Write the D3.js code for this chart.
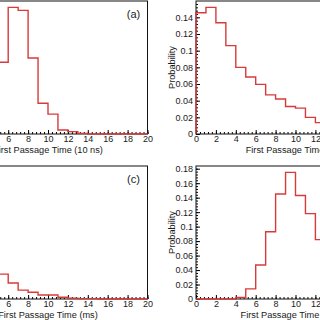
<!DOCTYPE html>
<html>
<head>
<meta charset="utf-8">
<script src="https://cdn.jsdelivr.net/npm/d3@7"></script>
<style>
  body { margin: 0; background: #fff; }
  svg { display: block; font-family: "Liberation Sans", Arial, sans-serif; }
</style>
</head>
<body>
<div id="chart"></div>
<script>
// first passage time histograms, 20 bins of width 1 (probability per bin)
const xTickValues = [0, 2, 4, 6, 8, 10, 12, 14, 16, 18, 20];
const probA = [0.005, 0.02, 0.045, 0.07, 0.1, 0.119, 0.21, 0.205, 0.126, 0.051, 0.033, 0.0066, 0.004, 0.001, 0, 0, 0, 0, 0, 0];
const probB = [0.1455, 0.152, 0.1335, 0.106, 0.080, 0.0684, 0.0596, 0.047, 0.042, 0.033, 0.031, 0.020, 0.0136, 0.012, 0.011, 0.010, 0.009, 0.009, 0.009, 0.008];
const probC = [0.30, 0.22, 0.15, 0.10, 0.07, 0.059, 0.038, 0.021, 0.016, 0.0095, 0.0095, 0.004, 0.0017, 0.001, 0.001, 0, 0, 0, 0, 0];
const probD = [0, 0, 0, 0, 0.002, 0.014, 0.047, 0.093, 0.145, 0.175, 0.143, 0.118, 0.082, 0.07, 0.045, 0.03, 0.02, 0.013, 0.008, 0.005];
const xTitles = ['First Passage Time (10 ns)', 'First Passage Time (ms)', 'First Passage Time (ms)', 'First Passage Time (10 ns)'];
const panelLabels = ['(a)', '', '(c)', ''];
const yTitle = 'Probability';

const width = 320, height = 320;
const plotW = 199, plotH = 133;

const panels = [
  { left: -51.5, top: 1, values: probA },
  { left: 196, top: 1, values: probB },
  { left: -51.5, top: 166, values: probC },
  { left: 196, top: 166, values: probD }
];

const svg = d3.select('#chart').append('svg')
  .attr('width', width)
  .attr('height', height);

panels.forEach((p, i) => {
  const g = svg.append('g').attr('transform', `translate(${p.left},${p.top})`);
  const yMax = d3.max(p.values) * 1.05;
  const yVisible = p.left > 0; // left axis of (a) and (c) lies outside the crop

  const x = d3.scaleLinear().domain([0, 20]).range([0, plotW]);
  const y = d3.scaleLinear().domain([0, yMax]).range([plotH, 0]);

  // only label ticks that fall inside the picture
  const shownX = xTickValues.filter(v => p.left + x(v) > 2 && p.left + x(v) < width + 2);

  // minor ticks
  g.append('g')
    .attr('transform', `translate(0,${plotH})`)
    .call(d3.axisBottom(x).tickValues(d3.range(0, 20.001, 0.4)).tickSize(-2).tickFormat(''))
    .call(a => a.select('.domain').remove());
  g.append('g')
    .call(d3.axisLeft(y).tickValues(d3.range(0, yMax, 0.004)).tickSize(-2).tickFormat(''))
    .call(a => a.select('.domain').remove());

  // major ticks + labels
  g.append('g')
    .attr('transform', `translate(0,${plotH})`)
    .call(d3.axisBottom(x).tickValues(xTickValues)
      .tickFormat(v => shownX.includes(v) ? v : '')
      .tickSizeInner(-4).tickSizeOuter(0).tickPadding(2))
    .call(a => a.select('.domain').remove())
    .call(a => a.selectAll('text').attr('font-size', 9).attr('fill', '#1a1a1a').attr('font-family', null));
  g.append('g')
    .call(d3.axisLeft(y).tickValues(d3.range(0, yMax, 0.02))
      .tickFormat(yVisible ? d3.format('~g') : '')
      .tickSizeInner(-4).tickSizeOuter(0).tickPadding(3))
    .call(a => a.select('.domain').remove())
    .call(a => a.selectAll('text').attr('font-size', 9).attr('fill', '#1a1a1a').attr('font-family', null));

  // frame
  g.append('rect')
    .attr('width', plotW).attr('height', plotH)
    .attr('fill', 'none').attr('stroke', '#111').attr('stroke-width', 1);

  // histogram outline
  const pts = [[0, 0]].concat(p.values.map((v, k) => [k, v]), [[20, p.values[19]], [20, 0]]);
  const line = d3.line()
    .x(d => x(d[0]))
    .y(d => y(d[1]))
    .curve(d3.curveStepAfter);
  g.append('path')
    .attr('d', line(pts))
    .attr('fill', 'none')
    .attr('stroke', '#d83a3a')
    .attr('stroke-width', 1.4);

  // titles
  g.append('text')
    .attr('x', x(10)).attr('y', plotH + 19)
    .attr('text-anchor', 'middle')
    .attr('font-size', 9.2).attr('fill', '#1a1a1a')
    .text(xTitles[i]);
  if (yVisible) {
    g.append('text')
      .attr('transform', `translate(-21,${plotH / 2}) rotate(-90)`)
      .attr('text-anchor', 'middle')
      .attr('font-size', 9.2).attr('fill', '#1a1a1a')
      .text(yTitle);
  }

  if (panelLabels[i]) {
    g.append('text')
      .attr('x', plotW - 14).attr('y', 17)
      .attr('text-anchor', 'middle')
      .attr('font-size', 11).attr('fill', '#1a1a1a')
      .text(panelLabels[i]);
  }
});
</script>
</body>
</html>
